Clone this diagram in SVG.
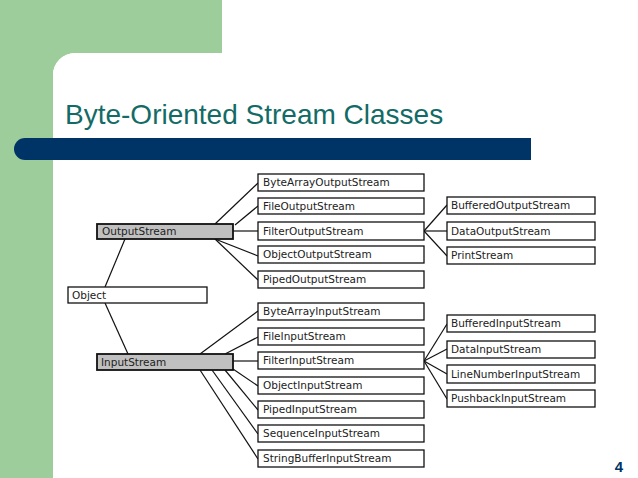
<svg xmlns="http://www.w3.org/2000/svg" width="638" height="478" viewBox="0 0 638 478">
<style>
.b{fill:#fff;stroke:#111;stroke-width:1.3}
.g{fill:#c0c0c0;stroke:#111;stroke-width:1.8}
.t{font-family:"DejaVu Sans",sans-serif;font-size:10.5px;fill:#222}
#conn line{stroke:#111;stroke-width:1.2}
</style>
<rect width="638" height="478" fill="#fff"/>
<rect x="0" y="0" width="222" height="53" fill="#9dcd9b"/>
<rect x="0" y="0" width="53" height="478" fill="#9dcd9b"/>
<path d="M53 478V75a22 22 0 0 1 22-22H222V53H53z" fill="#9dcd9b"/>
<path d="M53 478V75a22 22 0 0 1 22-22h563v425z" fill="#fff"/>
<text x="65" y="124" font-family="Liberation Sans,Arial,sans-serif" font-size="28" fill="#136b66">Byte-Oriented Stream Classes</text>
<path d="M25 138H531V160H25a11 11 0 0 1 0-22z" fill="#003366"/>
<text x="623" y="472" font-family="Liberation Sans,Arial,sans-serif" font-size="15" font-weight="bold" fill="#003366" text-anchor="end">4</text>
<g id="conn">
<line x1="105" y1="287" x2="125" y2="239"/><line x1="105" y1="303" x2="128" y2="354"/>
<line x1="215" y1="224" x2="258" y2="183"/><line x1="235" y1="225" x2="258" y2="206"/><line x1="233" y1="231" x2="258" y2="231"/><line x1="215" y1="239" x2="258" y2="256"/><line x1="215" y1="239" x2="258" y2="280"/>
<line x1="200" y1="354" x2="258" y2="311"/><line x1="225" y1="354" x2="258" y2="337"/><line x1="233" y1="361" x2="258" y2="361"/><line x1="233" y1="369" x2="258" y2="386"/><line x1="225" y1="370" x2="258" y2="410"/><line x1="212" y1="370" x2="258" y2="434"/><line x1="200" y1="370" x2="258" y2="459"/>
<line x1="424" y1="231" x2="447" y2="205"/><line x1="424" y1="231" x2="447" y2="231"/><line x1="424" y1="231" x2="447" y2="256"/>
<line x1="424" y1="361" x2="447" y2="324"/><line x1="424" y1="361" x2="447" y2="349"/><line x1="424" y1="361" x2="447" y2="374"/><line x1="424" y1="361" x2="447" y2="399"/>
</g>
<g id="OutputStream"><rect class="g" x="97" y="224" width="136" height="15"/><text class="t" x="102" y="235">OutputStream</text></g>
<g id="Object"><rect class="b" x="68" y="287" width="139" height="16"/><text class="t" x="72" y="299">Object</text></g>
<g id="InputStream"><rect class="g" x="97" y="354" width="136" height="16"/><text class="t" x="101" y="366">InputStream</text></g>
<g id="ByteArrayOutputStream"><rect class="b" x="258" y="174" width="166" height="17"/><text class="t" x="263" y="186">ByteArrayOutputStream</text></g>
<g id="FileOutputStream"><rect class="b" x="258" y="198" width="166" height="16"/><text class="t" x="263" y="210">FileOutputStream</text></g>
<g id="FilterOutputStream"><rect class="b" x="258" y="222" width="166" height="18"/><text class="t" x="263" y="235">FilterOutputStream</text></g>
<g id="ObjectOutputStream"><rect class="b" x="258" y="246" width="166" height="17"/><text class="t" x="263" y="258">ObjectOutputStream</text></g>
<g id="PipedOutputStream"><rect class="b" x="258" y="271" width="166" height="17"/><text class="t" x="263" y="283">PipedOutputStream</text></g>
<g id="ByteArrayInputStream"><rect class="b" x="258" y="303" width="166" height="17"/><text class="t" x="263" y="315">ByteArrayInputStream</text></g>
<g id="FileInputStream"><rect class="b" x="258" y="328" width="166" height="17"/><text class="t" x="263" y="340">FileInputStream</text></g>
<g id="FilterInputStream"><rect class="b" x="258" y="352" width="166" height="17"/><text class="t" x="263" y="364">FilterInputStream</text></g>
<g id="ObjectInputStream"><rect class="b" x="258" y="377" width="166" height="17"/><text class="t" x="263" y="389">ObjectInputStream</text></g>
<g id="PipedInputStream"><rect class="b" x="258" y="401" width="166" height="17"/><text class="t" x="263" y="413">PipedInputStream</text></g>
<g id="SequenceInputStream"><rect class="b" x="258" y="425" width="166" height="17"/><text class="t" x="263" y="437">SequenceInputStream</text></g>
<g id="StringBufferInputStream"><rect class="b" x="258" y="450" width="166" height="17"/><text class="t" x="263" y="462">StringBufferInputStream</text></g>
<g id="BufferedOutputStream"><rect class="b" x="447" y="197" width="148" height="17"/><text class="t" x="451" y="209">BufferedOutputStream</text></g>
<g id="DataOutputStream"><rect class="b" x="447" y="222" width="148" height="18"/><text class="t" x="451" y="235">DataOutputStream</text></g>
<g id="PrintStream"><rect class="b" x="447" y="247" width="148" height="17"/><text class="t" x="451" y="259">PrintStream</text></g>
<g id="BufferedInputStream"><rect class="b" x="447" y="315" width="148" height="17"/><text class="t" x="451" y="327">BufferedInputStream</text></g>
<g id="DataInputStream"><rect class="b" x="447" y="341" width="148" height="17"/><text class="t" x="451" y="353">DataInputStream</text></g>
<g id="LineNumberInputStream"><rect class="b" x="447" y="365" width="148" height="18"/><text class="t" x="451" y="378">LineNumberInputStream</text></g>
<g id="PushbackInputStream"><rect class="b" x="447" y="390" width="148" height="17"/><text class="t" x="451" y="402">PushbackInputStream</text></g>
</svg>
